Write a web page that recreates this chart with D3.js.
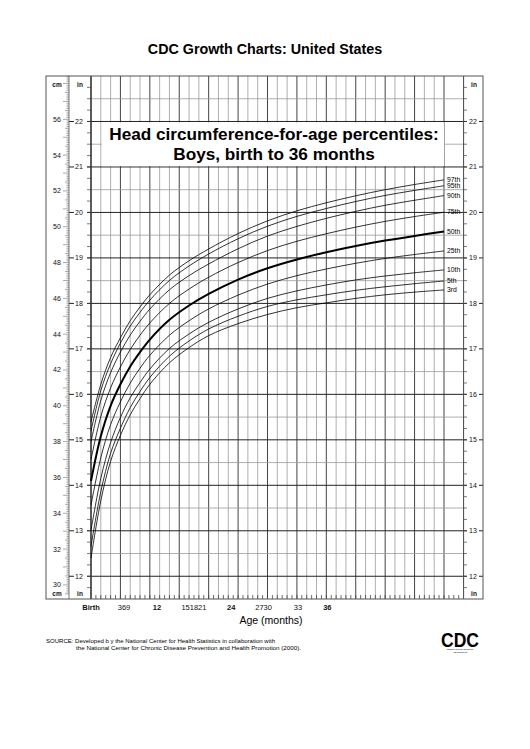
<!DOCTYPE html>
<html>
<head>
<meta charset="utf-8">
<script src="https://cdn.jsdelivr.net/npm/d3@7"></script>
<style>
  body { margin: 0; background: #fff; }
  svg { display: block; font-family: 'Liberation Sans', Arial, sans-serif; }
</style>
</head>
<body>
<svg id="root" width="530" height="749"></svg>
<script>

// ages in months, head circumference in cm
const ages = [0, 1, 2, 3, 4, 5, 6, 8, 10, 12, 15, 18, 21, 24, 27, 30, 33, 36];
const p3  = [31.5, 34.7, 36.9, 38.35, 39.5, 40.4, 41.2, 42.4, 43.25, 43.92, 44.59, 45.1, 45.48, 45.75, 46.0, 46.2, 46.35, 46.47];
const p5  = [32.15, 35.2, 37.35, 38.75, 39.9, 40.8, 41.58, 42.77, 43.62, 44.29, 45.0, 45.55, 45.92, 46.2, 46.45, 46.65, 46.82, 46.97];
const p10 = [33.05, 35.95, 37.95, 39.35, 40.45, 41.3, 42.05, 43.2, 44.01, 44.66, 45.41, 46.0, 46.42, 46.75, 47.03, 47.25, 47.43, 47.59];
const p25 = [34.45, 37.1, 38.95, 40.22, 41.27, 42.1, 42.82, 43.94, 44.75, 45.41, 46.18, 46.8, 47.27, 47.64, 47.96, 48.23, 48.45, 48.65];
const p50 = [35.8, 38.3, 40.0, 41.2, 42.2, 43.0, 43.7, 44.8, 45.6, 46.25, 47.05, 47.68, 48.17, 48.58, 48.93, 49.23, 49.49, 49.73];
const p75 = [37.0, 39.4, 41.0, 42.17, 43.15, 43.94, 44.63, 45.72, 46.52, 47.18, 48.0, 48.67, 49.19, 49.61, 49.98, 50.3, 50.57, 50.81];
const p90 = [38.0, 40.3, 41.85, 43.0, 43.95, 44.72, 45.4, 46.48, 47.27, 47.92, 48.77, 49.48, 50.02, 50.47, 50.86, 51.2, 51.48, 51.74];
const p95 = [38.6, 40.85, 42.35, 43.5, 44.45, 45.22, 45.9, 47.0, 47.81, 48.48, 49.33, 50.03, 50.58, 51.02, 51.41, 51.75, 52.03, 52.29];
const p97 = [39.1, 41.2, 42.7, 43.8, 44.75, 45.52, 46.2, 47.3, 48.1, 48.76, 49.62, 50.33, 50.89, 51.34, 51.73, 52.07, 52.36, 52.62];

const percentileNames = ['97th', '95th', '90th', '75th', '50th', '25th', '10th', '5th', '3rd'];
const percentileValues = [p97, p95, p90, p75, p50, p25, p10, p5, p3];

// age labels as printed (crowded, shifted left like the source)
const ageLabels = ['Birth', '369', '12', '151821', '24', '2730', '33', '36'];
const ageLabelAt = [0, 3.37, 6.73, 10.5, 14.3, 17.6, 21.1, 24.1];
const ageLabelBold = [true, false, true, false, true, false, false, true];

const inLabels = [12, 13, 14, 15, 16, 17, 18, 19, 20, 21, 22];
const cmLabels = [30, 32, 34, 36, 38, 40, 42, 44, 46, 48, 50, 52, 54, 56];

const root = d3.select('#root');

const plotLeft = 91;
const plotRight = 463.6;
const plotTop = 76;
const plotBottom = 599;
const frameLeft = 46;
const frameRight = 483;
const cmAxisX = 69;

const x = d3.scaleLinear().domain([0, 38]).range([plotLeft, plotRight]);
const yIn = d3.scaleLinear().domain([11.5, 23]).range([plotBottom, plotTop]);
const yCm = d3.scaleLinear().domain([11.5 * 2.54, 23 * 2.54]).range([plotBottom, plotTop]);

// page title
root.append('text')
    .attr('x', 265).attr('y', 54)
    .attr('text-anchor', 'middle')
    .attr('font-size', 14.3).attr('font-weight', 'bold')
    .text('CDC Growth Charts: United States');

const grid = root.append('g');

// vertical month lines
grid.selectAll('line.month')
    .data(d3.range(1, 37))
    .enter().append('line')
    .attr('class', 'month')
    .attr('x1', d => x(d)).attr('x2', d => x(d))
    .attr('y1', plotTop).attr('y2', plotBottom)
    .attr('stroke', d => d % 3 === 0 ? '#444' : '#9a9a9a')
    .attr('stroke-width', d => d % 3 === 0 ? 1 : 0.8);

// horizontal half-inch lines
const halfInches = d3.range(24, 46).map(d => d / 2);
grid.selectAll('line.inch')
    .data(halfInches)
    .enter().append('line')
    .attr('class', 'inch')
    .attr('x1', d => d % 1 === 0 ? 87 : plotLeft)
    .attr('x2', d => d % 1 === 0 ? 467 : plotRight)
    .attr('y1', d => yIn(d)).attr('y2', d => yIn(d))
    .attr('stroke', d => d % 1 === 0 ? '#222' : '#9a9a9a')
    .attr('stroke-width', d => d % 1 === 0 ? 1 : 0.8);

// quarter inch ticks both sides
const quarterInches = d3.range(47, 92).map(d => d / 4);
grid.selectAll('line.qleft')
    .data(quarterInches)
    .enter().append('line')
    .attr('x1', 87).attr('x2', plotLeft)
    .attr('y1', d => yIn(d)).attr('y2', d => yIn(d))
    .attr('stroke', '#444').attr('stroke-width', 0.7);
grid.selectAll('line.qright')
    .data(quarterInches)
    .enter().append('line')
    .attr('x1', plotRight).attr('x2', 467)
    .attr('y1', d => yIn(d)).attr('y2', d => yIn(d))
    .attr('stroke', '#444').attr('stroke-width', 0.7);

// integer inch outer ticks
grid.selectAll('line.ileft')
    .data(inLabels)
    .enter().append('line')
    .attr('x1', cmAxisX).attr('x2', cmAxisX + 5)
    .attr('y1', d => yIn(d)).attr('y2', d => yIn(d))
    .attr('stroke', '#222').attr('stroke-width', 1);
grid.selectAll('line.iright')
    .data(inLabels)
    .enter().append('line')
    .attr('x1', frameRight - 4).attr('x2', frameRight)
    .attr('y1', d => yIn(d)).attr('y2', d => yIn(d))
    .attr('stroke', '#222').attr('stroke-width', 1);

// half-month ticks along the bottom
grid.selectAll('line.btick')
    .data(d3.range(1, 76).map(d => d / 2))
    .enter().append('line')
    .attr('x1', d => x(d)).attr('x2', d => x(d))
    .attr('y1', plotBottom - 4).attr('y2', plotBottom)
    .attr('stroke', '#444').attr('stroke-width', 0.8);

// cm ticks on the left axis
const mm = d3.range(295, 585).map(d => d / 10);
grid.selectAll('line.cm')
    .data(mm)
    .enter().append('line')
    .attr('x1', d => {
        const k = Math.round(d * 10);
        return cmAxisX - (k % 10 === 0 ? 6 : k % 5 === 0 ? 4 : 2.5);
    })
    .attr('x2', cmAxisX)
    .attr('y1', d => yCm(d)).attr('y2', d => yCm(d))
    .attr('stroke', '#555').attr('stroke-width', 0.5);

// axis borders and frame
grid.append('line')
    .attr('x1', cmAxisX).attr('x2', cmAxisX)
    .attr('y1', plotTop).attr('y2', plotBottom)
    .attr('stroke', '#555').attr('stroke-width', 0.8);
grid.append('line')
    .attr('x1', plotLeft).attr('x2', plotLeft)
    .attr('y1', plotTop).attr('y2', plotBottom)
    .attr('stroke', '#333').attr('stroke-width', 1.6);
grid.append('line')
    .attr('x1', plotRight).attr('x2', plotRight)
    .attr('y1', plotTop).attr('y2', plotBottom)
    .attr('stroke', '#444').attr('stroke-width', 1);
grid.append('rect')
    .attr('x', frameLeft).attr('y', plotTop)
    .attr('width', frameRight - frameLeft).attr('height', plotBottom - plotTop)
    .attr('fill', 'none')
    .attr('stroke', '#555').attr('stroke-width', 1);

// title box
root.append('rect')
    .attr('x', x(1.1)).attr('y', yIn(22) + 0.8)
    .attr('width', x(36) - x(1.1)).attr('height', yIn(21) - yIn(22) - 1.6)
    .attr('fill', '#fff');
root.append('text')
    .attr('x', 274).attr('y', 140)
    .attr('text-anchor', 'middle')
    .attr('font-size', 17.2).attr('font-weight', 'bold')
    .text('Head circumference-for-age percentiles:');
root.append('text')
    .attr('x', 274).attr('y', 160)
    .attr('text-anchor', 'middle')
    .attr('font-size', 17.2).attr('font-weight', 'bold')
    .text('Boys, birth to 36 months');

// axis labels
const labels = root.append('g').attr('font-size', 7).attr('fill', '#111');
labels.selectAll('text.cm')
    .data(cmLabels)
    .enter().append('text')
    .attr('x', 57).attr('y', d => yCm(d) + 2.5)
    .attr('text-anchor', 'middle')
    .text(d => d);
labels.selectAll('text.inl')
    .data(inLabels)
    .enter().append('text')
    .attr('x', 79).attr('y', d => yIn(d) + 2.5)
    .attr('text-anchor', 'middle')
    .text(d => d);
labels.selectAll('text.inr')
    .data(inLabels)
    .enter().append('text')
    .attr('x', 473).attr('y', d => yIn(d) + 2.5)
    .attr('text-anchor', 'middle')
    .text(d => d);

const unitRows = [plotTop + 11, plotBottom - 3];
unitRows.forEach(yy => {
    labels.append('text').attr('x', 57).attr('y', yy).attr('text-anchor', 'middle')
        .attr('font-weight', 'bold').attr('font-size', 6.5).text('cm');
    labels.append('text').attr('x', 80).attr('y', yy).attr('text-anchor', 'middle')
        .attr('font-weight', 'bold').attr('font-size', 6.5).text('in');
    labels.append('text').attr('x', 474).attr('y', yy).attr('text-anchor', 'middle')
        .attr('font-weight', 'bold').attr('font-size', 6.5).text('in');
});

labels.selectAll('text.age')
    .data(ageLabels)
    .enter().append('text')
    .attr('x', (d, i) => x(ageLabelAt[i]))
    .attr('y', 610)
    .attr('text-anchor', 'middle')
    .attr('font-size', 7.5)
    .attr('font-weight', (d, i) => ageLabelBold[i] ? 'bold' : 'normal')
    .text(d => d);

root.append('text')
    .attr('x', 271).attr('y', 624)
    .attr('text-anchor', 'middle')
    .attr('font-size', 10.5)
    .text('Age (months)');

// percentile curves
const line = d3.line()
    .x((d, i) => x(ages[i]))
    .y(d => yCm(d))
    .curve(d3.curveCatmullRom.alpha(0.5));

root.append('g').selectAll('path')
    .data(percentileValues)
    .enter().append('path')
    .attr('d', d => line(d))
    .attr('fill', 'none')
    .attr('stroke', '#000')
    .attr('stroke-width', (d, i) => percentileNames[i] === '50th' ? 2 : 0.8);

root.append('g').selectAll('text')
    .data(percentileValues)
    .enter().append('text')
    .attr('x', x(36) + 3)
    .attr('y', d => yCm(d[d.length - 1]) + 2.2)
    .attr('font-size', 6.8)
    .text((d, i) => percentileNames[i]);

// footer
root.append('text')
    .attr('x', 46).attr('y', 643)
    .attr('font-size', 6.2)
    .attr('textLength', 229).attr('lengthAdjust', 'spacingAndGlyphs')
    .text('SOURCE: Developed b y the National Center for Health Statistics in collaboration with');
root.append('text')
    .attr('x', 76).attr('y', 650)
    .attr('font-size', 6.2)
    .attr('textLength', 225).attr('lengthAdjust', 'spacingAndGlyphs')
    .text('the National Center for Chronic Disease Prevention and Health Promotion (2000).');

// CDC logo
const logo = root.append('g');
logo.append('text')
    .attr('x', 441).attr('y', 647)
    .attr('font-size', 21).attr('font-weight', 'bold')
    .attr('textLength', 38).attr('lengthAdjust', 'spacingAndGlyphs')
    .text('CDC');
logo.append('text')
    .attr('x', 460).attr('y', 650)
    .attr('text-anchor', 'middle')
    .attr('font-size', 1.6)
    .text('CENTERS FOR DISEASE CONTROL');
logo.append('text')
    .attr('x', 460).attr('y', 652.6)
    .attr('text-anchor', 'middle')
    .attr('font-size', 1.6)
    .text('AND PREVENTION');

</script>
</body>
</html>
